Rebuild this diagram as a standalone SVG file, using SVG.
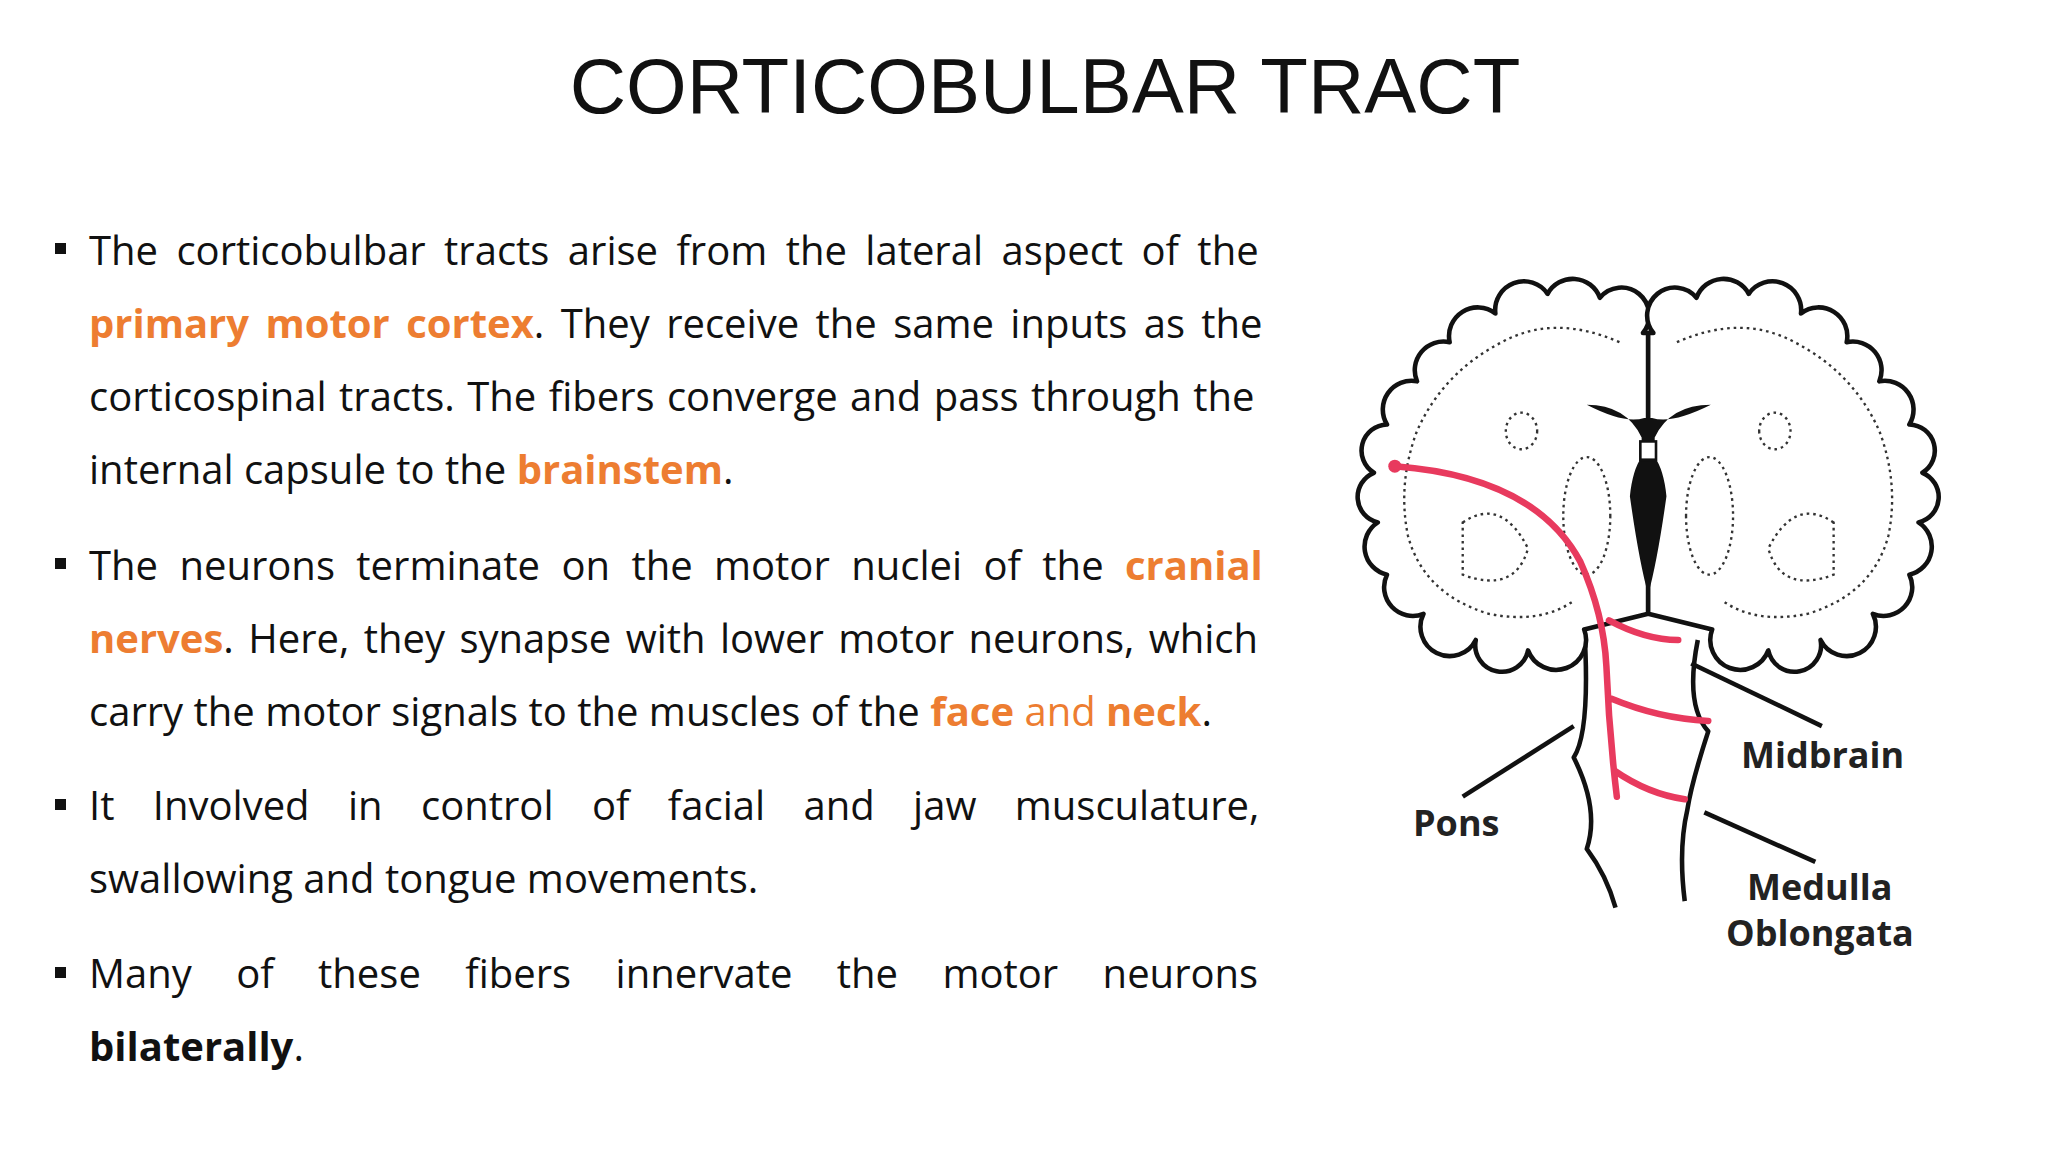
<svg xmlns="http://www.w3.org/2000/svg" width="2048" height="1152" viewBox="0 0 2048 1152">
<style>
.t{font-family:"Open Sans","Liberation Sans",sans-serif;font-size:40px;fill:#111}
.o{fill:#ED7D31;font-weight:bold}
.oo{fill:#ED7D31}
.b{font-weight:bold}
.lab{font-family:"Open Sans","Liberation Sans",sans-serif;font-weight:bold;font-size:36px;fill:#222}
.out{fill:#fff;stroke:#111;stroke-width:3.5;stroke-linejoin:round}
.dot{fill:none;stroke:#333;stroke-width:1.8;stroke-dasharray:2 3}
.ln{stroke:#111;stroke-width:3.5}
.red{fill:none;stroke:#E83A5E;stroke-width:5;stroke-linecap:round}
</style>
<rect width="2048" height="1152" fill="#fff"/>
<text x="1045" y="113" text-anchor="middle" font-family="Liberation Sans,Arial,sans-serif" font-size="78" fill="#111">CORTICOBULBAR TRACT</text>
<g id="bullets" fill="#111">
<rect x="55" y="243" width="11" height="11"/><rect x="55" y="558" width="11" height="11"/><rect x="55" y="799" width="11" height="11"/><rect x="55" y="967" width="11" height="11"/>
</g>
<g id="text">
<text class="t" x="89" y="265" word-spacing="8">The corticobulbar tracts arise from the lateral aspect of the</text>
<text class="t" x="89" y="338" word-spacing="6"><tspan class="o">primary motor cortex</tspan>. They receive the same inputs as the</text>
<text class="t" x="89" y="411" word-spacing="2">corticospinal tracts. The fibers converge and pass through the</text>
<text class="t" x="89" y="484">internal capsule to the <tspan class="o">brainstem</tspan>.</text>
<text class="t" x="89" y="580" word-spacing="11">The neurons terminate on the motor nuclei of the <tspan class="o">cranial</tspan></text>
<text class="t" x="89" y="653" word-spacing="4"><tspan class="o">nerves</tspan>. Here, they synapse with lower motor neurons, which</text>
<text class="t" x="89" y="726">carry the motor signals to the muscles of the <tspan class="o">face</tspan><tspan class="oo"> and </tspan><tspan class="o">neck</tspan>.</text>
<text class="t" x="89" y="820" word-spacing="28">It Involved in control of facial and jaw musculature,</text>
<text class="t" x="89" y="893">swallowing and tongue movements.</text>
<text class="t" x="89" y="988" word-spacing="34"> Many of these fibers innervate the motor neurons</text>
<text class="t" x="89" y="1061"><tspan class="b">bilaterally</tspan>.</text>
</g>
<g id="brain" transform="scale(1.306)">
<path class="out" d="M1213 480 Q1218 560 1205 580 Q1225 620 1215 650 Q1230 670 1237 695 M1300 490 Q1290 540 1308 560 Q1295 600 1292 620 Q1285 650 1290 690"/>
<g id="lh">
<path class="out" d="M1258 255 A20 20 0 0 0 1225 228 A22 22 0 0 0 1185 225 A22 22 0 0 0 1145 240 A22 22 0 0 0 1110 262 A22 22 0 0 0 1085 292 A22 22 0 0 0 1062 325 A20 20 0 0 0 1052 362 A20 20 0 0 0 1055 400 A22 22 0 0 0 1062 440 A22 22 0 0 0 1090 470 A22 22 0 0 0 1130 490 A20 20 0 0 0 1170 498 A20 20 0 0 0 1213 482 L1262 470 L1262 255 Z"/>
<path class="dot" d="M1240 262 Q1190 240 1150 262 Q1105 285 1085 330 Q1070 370 1078 410 Q1090 455 1140 470 Q1180 478 1205 460"/>
<ellipse class="dot" cx="1165" cy="330" rx="12" ry="14"/>
<ellipse class="dot" cx="1215" cy="395" rx="18" ry="45"/>
<path class="dot" d="M1120 400 Q1150 380 1170 420 Q1160 455 1120 440 Z"/>
</g>
<use href="#lh" transform="translate(2524 0) scale(-1 1)"/>
<path d="M1215 310 Q1245 310 1257 335 L1257 350 Q1250 360 1248 380 Q1255 430 1262 455 Q1269 430 1276 380 Q1274 360 1267 350 L1267 335 Q1279 310 1310 310 Q1280 325 1265 320 L1259 320 Q1244 325 1215 310 Z" fill="#111"/>
<rect x="1256" y="338" width="12" height="14" fill="#fff" stroke="#111" stroke-width="2"/>
</g>
<g id="tract" transform="scale(1.306)">
<circle cx="1068" cy="357" r="5" fill="#E83A5E"/>
<path class="red" d="M1068 357 Q1175 365 1210 430 Q1228 470 1230 510 Q1232 560 1238 610 M1232 475 Q1260 490 1285 490 M1234 535 Q1270 550 1308 552 M1236 590 Q1262 608 1290 612"/>
</g>
<g id="connectors" transform="scale(1.306)">
<line class="ln" x1="1395" y1="556" x2="1295" y2="508"/>
<line class="ln" x1="1120" y1="610" x2="1205" y2="556"/>
<line class="ln" x1="1390" y1="660" x2="1305" y2="622"/>
</g>
<g id="labels">
<text class="lab" x="1741" y="768">Midbrain</text>
<text class="lab" x="1413" y="836">Pons</text>
<text class="lab" x="1747" y="900">Medulla</text>
<text class="lab" x="1726" y="946">Oblongata</text>
</g>
</svg>
